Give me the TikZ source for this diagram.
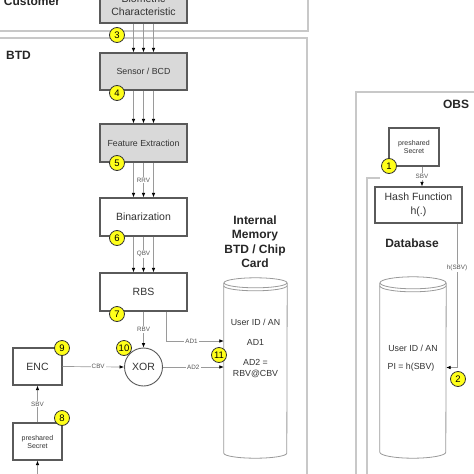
\documentclass[tikz,border=0pt]{standalone}
\usepackage{fontspec}
\setmainfont{Liberation Sans}
\usetikzlibrary{arrows.meta,calc}
\definecolor{frameg}{HTML}{C8C8C8}
\definecolor{boxline}{HTML}{5A5A5A}
\definecolor{boxfill}{HTML}{D9D9D9}
\definecolor{lineg}{HTML}{9A9A9A}
\definecolor{txtg}{HTML}{333333}
\definecolor{lblg}{HTML}{555555}
\definecolor{numy}{HTML}{FFFF1A}
\begin{document}
\begin{tikzpicture}[x=1pt,y=-1pt,
  frame/.style={draw=frameg,line width=1.2pt},
  procbox/.style={draw=boxline,line width=1.1pt,fill=white,minimum width=87pt,minimum height=37pt,inner sep=0pt,align=center,text=txtg,font=\fontsize{10.5}{12.5}\selectfont},
  graybox/.style={procbox,fill=boxfill},
  smallbox/.style={procbox,minimum width=49pt,font=\fontsize{7}{8}\selectfont},
  numc/.style={circle,draw=black!80,line width=0.8pt,fill=numy,minimum size=15pt,inner sep=0pt,font=\fontsize{9.5}{9.5}\selectfont},
  arr/.style={draw=lineg,line width=0.7pt,-{Latex[length=4.5pt,width=3.6pt,black]}},
  lbl/.style={fill=white,inner sep=1pt,text=lblg,font=\fontsize{6.3}{7}\selectfont},
  title/.style={font=\bfseries\fontsize{12}{14.5}\selectfont,text=black!85,align=center},
  cyl/.style={draw=lineg,line width=0.8pt},
  cyltext/.style={text=txtg,font=\fontsize{8.8}{11}\selectfont,align=center},
]
\useasboundingbox (0,0) rectangle (474,474);
\clip (0,0) rectangle (474,474);

% frames
\draw[frame] (-5,-20) rectangle (308,31);
\draw[frame] (-5,38) rectangle (307,490);
\draw[frame] (356,92) rectangle (490,490);
\draw[frame] (367,490) -- (367,178) -- (380,178);

% titles
\node[title,anchor=base] (custt) at (32,5) {Customer};
\node[title,anchor=base] (btdt) at (18.5,59.5) {BTD};
\node[title,anchor=base] (obst) at (456,108) {OBS};
\node[title,anchor=base] (dbt) at (412,247) {Database};
\node[title] (memt) at (255,241.5) {Internal\\Memory\\BTD / Chip\\Card};

% boxes
\node[graybox,minimum height=36pt] (bio) at (143.5,5) {Biometric\\Characteristic};
\node[graybox,font=\fontsize{8.8}{10}\selectfont] (sensor) at (143.5,71.5) {Sensor / BCD};
\node[graybox,minimum height=38pt,font=\fontsize{8.8}{10}\selectfont] (feat) at (143.5,143) {Feature Extraction};
\node[procbox,minimum height=38pt] (bin) at (143.5,217) {Binarization};
\node[procbox,minimum height=38pt] (rbs) at (143.5,292) {RBS};
\node[circle,draw=boxline,line width=0.9pt,fill=white,minimum size=38pt,inner sep=0pt,text=txtg,font=\fontsize{10.5}{12}\selectfont] (xor) at (143.5,367) {XOR};
\node[procbox,minimum width=49pt] (enc) at (37.5,366.5) {ENC};
\node[smallbox] (pss) at (37.5,441.5) {preshared\\Secret};
\node[smallbox,minimum width=50pt,minimum height=38pt] (obss) at (414,147) {preshared\\Secret};
\node[procbox,minimum height=36pt,font=\fontsize{10.5}{13.5}\selectfont] (hash) at (418.5,205) {Hash Function\\h(.)};

% cylinders
\node[minimum width=63pt,minimum height=170pt,inner sep=0pt] (mem) at (255.5,368) {};
\draw[cyl,fill=white] (mem.north west) -- (mem.south west) arc[start angle=180,end angle=360,x radius=31.5pt,y radius=5pt] -- (mem.north east);
\draw[cyl] (mem.north) ellipse[x radius=31.5pt,y radius=5pt];
\draw[cyl] ([yshift=-3pt]mem.north west) arc[start angle=180,end angle=360,x radius=31.5pt,y radius=5pt];

\node[minimum width=66pt,minimum height=169pt,inner sep=0pt] (db) at (413,367.5) {};
\draw[cyl,fill=white] (db.north west) -- (db.south west) arc[start angle=180,end angle=360,x radius=33pt,y radius=6pt] -- (db.north east);
\draw[cyl] (db.north) ellipse[x radius=33pt,y radius=6pt];
\draw[cyl] ([yshift=-3pt]db.north west) arc[start angle=180,end angle=360,x radius=33pt,y radius=6pt];

\node[cyltext] (memuser) at (255.5,322) {User ID / AN};
\node[cyltext] (memad1) at (255.5,342) {AD1};
\node[cyltext] (memad2) at (255.5,368.5) {AD2 =\\RBV@CBV};
\node[cyltext] (dbuser) at (413,348) {User ID / AN};
\node[cyltext] (dbpi) at (411,367) {PI = h(SBV)};

% arrows
\foreach \dx in {-10,0,10} {
  \draw[arr] ([xshift=\dx pt]bio.south) -- ([xshift=\dx pt]sensor.north);
  \draw[arr] ([xshift=\dx pt]sensor.south) -- ([xshift=\dx pt]feat.north);
  \draw[arr] ([xshift=\dx pt]feat.south) -- ([xshift=\dx pt]bin.north);
  \draw[arr] ([xshift=\dx pt]bin.south) -- ([xshift=\dx pt]rbs.north);
}
\node[lbl] (rrvl) at (143.5,180) {RRV};
\node[lbl] (qbvl) at (143.5,254) {QBV};
\draw[arr] (rbs.south) -- node[lbl] (rbvl) {RBV} (xor.north);
\draw[arr] (enc.east) -- node[lbl,pos=0.58] (cbvl) {CBV} (xor.west);
\draw[arr] (xor.east) -- node[lbl] (ad2l) {AD2} (xor.east -| mem.west);
\draw[arr] ([xshift=22.5pt]rbs.south) |- node[lbl,pos=0.72] (ad1l) {AD1} ([yshift=27pt]mem.west);
\draw[arr] (pss.north) -- node[lbl] (sbvl) {SBV} (enc.south);
\coordinate (pssfeed) at (37.5,485);
\draw[arr] (pssfeed) -- (pss.south);
\draw[arr] ([xshift=8pt]obss.south) -- node[lbl] (sbv2l) {SBV} ([xshift=3.5pt]hash.north);
\draw[arr] ([xshift=-5.5pt]hash.south east) |- node[lbl,pos=0.155] (hsbvl) {h(SBV)} (db.east);

% numbered markers
\node[numc] (n1) at (389,166) {1};
\node[numc] (n2) at (458,379) {2};
\node[numc] (n3) at (117,35) {3};
\node[numc] (n4) at (117,93) {4};
\node[numc] (n5) at (117,163) {5};
\node[numc] (n6) at (117,238) {6};
\node[numc] (n7) at (117,314) {7};
\node[numc] (n8) at (62,418) {8};
\node[numc] (n9) at (62,348) {9};
\node[numc] (n10) at (124,348) {10};
\node[numc] (n11) at (219,355) {11};
\end{tikzpicture}
\end{document}
